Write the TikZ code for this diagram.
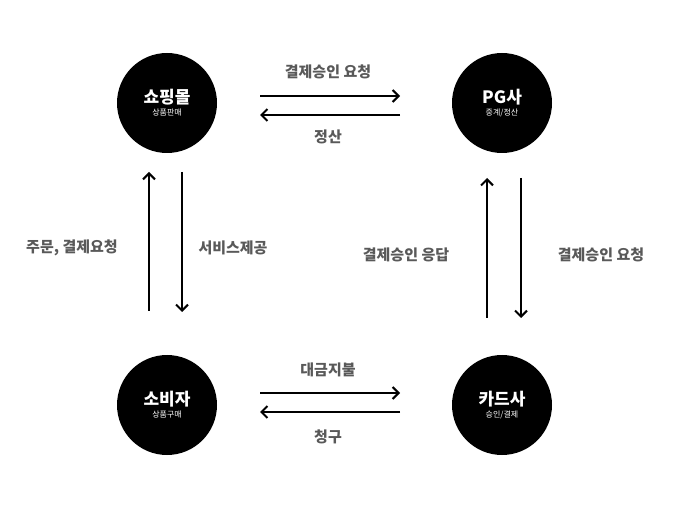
\documentclass[tikz,border=0pt]{standalone}
\usepackage{fontspec}
\setmainfont{Noto Sans CJK KR}
\usetikzlibrary{arrows.meta}
\begin{document}
\begin{tikzpicture}[x=1pt,y=-1pt,
  party/.style={circle,fill=black,minimum size=100pt,inner sep=0pt,text=white,align=center},
  arr/.style={line width=2pt,-{Straight Barb[length=6pt,width=12pt]}},
  lbl/.style={text=black!65,font=\bfseries\fontsize{15}{17}\selectfont}]
\useasboundingbox (0,0) rectangle (678,505);
\node[party] (shop) at (167,103) {{\bfseries\fontsize{17}{19}\selectfont 쇼핑몰}\\[0pt]{\fontsize{8}{9}\selectfont 상품판매}};
\node[party] (pg) at (502,103) {{\bfseries\fontsize{17}{19}\selectfont PG사}\\[0pt]{\fontsize{8}{9}\selectfont 중계/정산}};
\node[party] (cons) at (167,405) {{\bfseries\fontsize{17}{19}\selectfont 소비자}\\[0pt]{\fontsize{8}{9}\selectfont 상품구매}};
\node[party] (card) at (502,405) {{\bfseries\fontsize{17}{19}\selectfont 카드사}\\[0pt]{\fontsize{8}{9}\selectfont 승인/결제}};
\coordinate (t1a) at (260,96); \coordinate (t1b) at (400,96);
\coordinate (t2a) at (400,115); \coordinate (t2b) at (260,115);
\coordinate (b1a) at (260,393); \coordinate (b1b) at (400,393);
\coordinate (b2a) at (400,412); \coordinate (b2b) at (260,412);
\coordinate (l1a) at (149,311); \coordinate (l1b) at (149,172);
\coordinate (l2a) at (182,172); \coordinate (l2b) at (182,312);
\coordinate (r1a) at (487,318); \coordinate (r1b) at (487,178);
\coordinate (r2a) at (521,178); \coordinate (r2b) at (521,318);
\draw[arr] (t1a) -- (t1b);
\draw[arr] (t2a) -- (t2b);
\draw[arr] (b1a) -- (b1b);
\draw[arr] (b2a) -- (b2b);
\draw[arr] (l1a) -- (l1b);
\draw[arr] (l2a) -- (l2b);
\draw[arr] (r1a) -- (r1b);
\draw[arr] (r2a) -- (r2b);
\node[lbl] (lt1) at (328,72) {결제승인 요청};
\node[lbl] (lt2) at (328,137) {정산};
\node[lbl] (lb1) at (328,370) {대금지불};
\node[lbl] (lb2) at (328,437) {청구};
\node[lbl] (ll1) at (72,248) {주문, 결제요청};
\node[lbl] (ll2) at (233,248) {서비스제공};
\node[lbl] (lr1) at (406,255) {결제승인 응답};
\node[lbl] (lr2) at (601,255) {결제승인 요청};
\end{tikzpicture}
\end{document}
